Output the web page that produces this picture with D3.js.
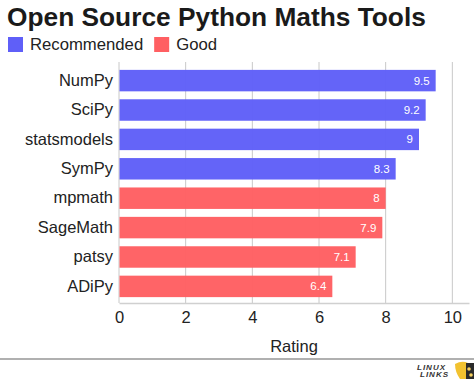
<!DOCTYPE html>
<html>
<head>
<meta charset="utf-8">
<script src="https://cdn.jsdelivr.net/npm/d3@7"></script>
<style>
  body { margin: 0; background: #fff; }
  svg { font-family: "Liberation Sans", Arial, sans-serif; display: block; }
</style>
</head>
<body>
<svg id="chart"></svg>
<script>
const tools = ['NumPy', 'SciPy', 'statsmodels', 'SymPy', 'mpmath', 'SageMath', 'patsy', 'ADiPy'];
const ratings = [9.5, 9.2, 9, 8.3, 8, 7.9, 7.1, 6.4];
const groups = ['Recommended', 'Recommended', 'Recommended', 'Recommended', 'Good', 'Good', 'Good', 'Good'];
const legendItems = ['Recommended', 'Good'];
const xTicks = [0, 2, 4, 6, 8, 10];

const width = 474;
const height = 379;
const margin = { top: 64, right: 5, bottom: 76, left: 119 };

const colors = d3.scaleOrdinal().domain(legendItems).range(['#5f5ff8', '#ff5f62']);

const svg = d3.select('#chart').attr('width', width).attr('height', height);

const x = d3.scaleLinear().domain([0, 10.5]).range([margin.left, width - margin.right]);
const y = d3.scaleBand().domain(tools).range([margin.top, height - margin.bottom]).paddingInner(0.27).paddingOuter(0.2);

// title
svg.append('text')
    .attr('x', 7).attr('y', 26)
    .attr('font-size', '26.3px').attr('font-weight', 'bold')
    .attr('fill', '#1a1a1a')
    .text('Open Source Python Maths Tools');

// legend
let lx = 8;
legendItems.forEach(name => {
    svg.append('rect').attr('x', lx).attr('y', 37).attr('width', 15).attr('height', 15).attr('fill', colors(name));
    const t = svg.append('text').attr('x', lx + 22).attr('y', 50)
        .attr('font-size', '16.7px').attr('fill', '#222').text(name);
    lx += 22 + t.node().getComputedTextLength() + 11;
});

// grid
svg.append('g')
    .selectAll('line')
    .data(xTicks)
    .enter()
    .append('line')
    .attr('x1', d => x(d)).attr('x2', d => x(d))
    .attr('y1', margin.top - 2).attr('y2', height - margin.bottom)
    .attr('stroke', '#c8c8c8').attr('stroke-width', 1);

// bars
const bars = svg.selectAll('.bar')
    .data(tools)
    .enter()
    .append('g')
    .attr('class', 'bar');

bars.append('rect')
    .attr('x', x(0) + 0.5)
    .attr('y', d => y(d))
    .attr('width', (d, i) => x(ratings[i]) - x(0) - 0.5)
    .attr('height', y.bandwidth())
    .attr('fill', (d, i) => colors(groups[i]))
    .attr('fill-opacity', 0.97);

bars.append('text')
    .attr('x', (d, i) => x(ratings[i]) - 6)
    .attr('y', d => y(d) + y.bandwidth() / 2)
    .attr('dy', '.35em')
    .attr('text-anchor', 'end')
    .attr('font-size', '11.5px')
    .attr('fill', '#fff')
    .text((d, i) => ratings[i]);

// y labels
svg.append('g')
    .attr('transform', `translate(${margin.left}, 0)`)
    .call(d3.axisLeft(y).tickSize(0).tickPadding(6))
    .call(g => g.select('.domain').remove())
    .call(g => g.selectAll('text').attr('font-size', '16.5px').attr('fill', '#222').attr('font-family', 'Liberation Sans, Arial, sans-serif'));

// x axis
svg.append('g')
    .attr('transform', `translate(0, ${height - margin.bottom})`)
    .call(d3.axisBottom(x).tickValues(xTicks).tickSize(0).tickPadding(8))
    .call(g => g.select('.domain').attr('stroke', '#d0d0d0').attr('stroke-width', 1.5))
    .call(g => g.selectAll('text').attr('font-size', '16.5px').attr('fill', '#222').attr('font-family', 'Liberation Sans, Arial, sans-serif'));

svg.append('text')
    .attr('x', (x(0) + x(10.5)) / 2)
    .attr('y', 352)
    .attr('text-anchor', 'middle')
    .attr('font-size', '16.5px').attr('fill', '#222')
    .text('Rating');

// footer line
svg.append('line')
    .attr('x1', 0).attr('x2', width)
    .attr('y1', 359).attr('y2', 359)
    .attr('stroke', '#b0b0b0').attr('stroke-width', 2);

// logo
const logo = svg.append('g');
logo.append('text').attr('x', 417).attr('y', 369.5)
    .attr('font-size', '8px').attr('font-weight', 'bold').attr('font-style', 'italic')
    .attr('letter-spacing', '1px').attr('fill', '#333').text('LINUX');
logo.append('text').attr('x', 420).attr('y', 377)
    .attr('font-size', '8px').attr('font-weight', 'bold').attr('font-style', 'italic')
    .attr('letter-spacing', '1px').attr('fill', '#333').text('LINKS');
logo.append('path')
    .attr('d', 'M455,364 Q462,360 468,363 L467,379 L460,379 Q455,372 455,364 Z')
    .attr('fill', '#f2c230');
logo.append('rect').attr('x', 466).attr('y', 363).attr('width', 8).attr('height', 16).attr('fill', '#2a2a2a');
logo.append('circle').attr('cx', 469).attr('cy', 369).attr('r', 1.8).attr('fill', '#f5d060');
logo.append('circle').attr('cx', 471).attr('cy', 375).attr('r', 1.8).attr('fill', '#f5d060');
</script>
</body>
</html>
